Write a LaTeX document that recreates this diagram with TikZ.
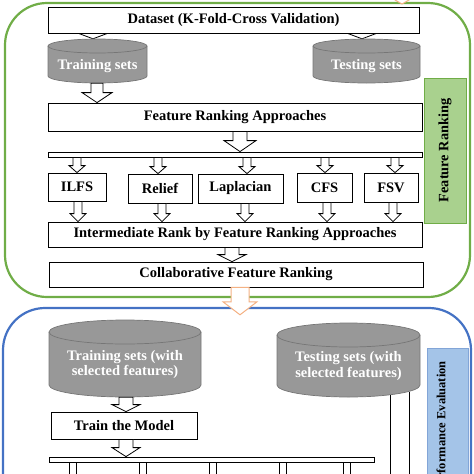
\documentclass[tikz,border=0pt]{standalone}
\usepackage{fontspec}
\setmainfont{Liberation Serif}
\usetikzlibrary{calc}
\pgfdeclarelayer{under}
\pgfsetlayers{under,main}
\definecolor{grn}{RGB}{112,173,71}
\definecolor{grnfill}{RGB}{169,209,142}
\definecolor{blu}{RGB}{68,114,196}
\definecolor{blufill}{RGB}{164,196,232}
\definecolor{bluline}{RGB}{130,165,215}
\definecolor{cylfill}{RGB}{152,152,152}
\definecolor{cylline}{RGB}{118,118,118}
\definecolor{orng}{RGB}{244,177,131}
\tikzset{
  box/.style={draw=black, fill=white, line width=0.8pt, inner sep=0pt,
    font=\bfseries\fontsize{14.5}{15.5}\selectfont},
  barbox/.style={draw=black, fill=white, line width=0.8pt, inner sep=0pt},
  cyltext/.style={inner sep=0pt, text=white, align=center,
    font=\bfseries\fontsize{14.5}{15.5}\selectfont},
  cylshape/.style={fill=cylfill, draw=cylline, line width=0.7pt},
  blockarrow/.style={draw=black, fill=white, line width=0.8pt},
  orangearrow/.style={draw=orng, fill=white, line width=1pt},
  panel/.style={line width=2.2pt, rounded corners=42pt},
  label/.style={inner sep=0pt, font=\bfseries\fontsize{14.3}{15}\selectfont},
  smalllabel/.style={inner sep=0pt, font=\bfseries\fontsize{12.5}{14}\selectfont},
  endpt/.style={inner sep=0pt, minimum size=0pt}
}
% block arrow between two named nodes: style, x, from, to, shaft half, head half, head length
\newcommand\barr[7]{%
  \draw[#1] let \p1=(#3.south), \p2=(#4.north) in
    ({#2-#5},\y1) -- ({#2+#5},\y1) -- ({#2+#5},{\y2+#7pt}) -- ({#2+#6},{\y2+#7pt})
    -- (#2,\y2) -- ({#2-#6},{\y2+#7pt}) -- ({#2-#5},{\y2+#7pt}) -- cycle;}
% cylinder: name, x1, x2, ytop, ybot, ry, text
\newcommand\cyl[7]{%
  \pgfmathsetmacro\rxc{(#3-#2)/2}%
  \draw[cylshape] (#2,{-(#4+#6)}) -- (#2,{-(#5-#6)}) arc (180:360:\rxc pt and #6pt)
     -- (#3,{-(#4+#6)}) arc (0:180:\rxc pt and #6pt) -- cycle;
  \draw[cylline, line width=0.7pt] (#2,{-(#4+#6)}) arc (180:360:\rxc pt and #6pt);
  \node[cyltext, minimum width={(#3-#2)*1pt}, minimum height={(#5-#4)*1pt}]
     (#1) at ({(#2+#3)/2},{-(#4+#5)/2}) {};
  \node[cyltext] (#1text) at ({(#2+#3)/2},{-(#4+#5)/2-#6/4-3}) {#7};}
\begin{document}
\begin{tikzpicture}[x=1pt,y=1pt]
\useasboundingbox (0,0) rectangle (474,-474);
\begin{scope}
\clip (0,0) rectangle (474,-474);
% panels
\draw[panel, draw=grn] (5,-3) rectangle (470,-297);
\draw[panel, draw=blu] (3,-308) rectangle (471,-560);
% top-right orange tip
\draw[orangearrow] (395,2) -- (395,0) -- (402,-4) -- (409,0) -- (409,2);

% side labels
\node[label, fill=grnfill, draw=grn, line width=0.8pt, minimum width=42pt, minimum height=145pt]
  (frlab) at (445,-150.5) {};
\node[label, rotate=90] (frtext) at (frlab.center) {Feature Ranking};
\node[smalllabel, fill=blufill, draw=bluline, line width=0.8pt, minimum width=41pt, minimum height=160pt,
  anchor=north] (pelab) at (447.5,-348) {};
\node[smalllabel, rotate=90, anchor=east] (petext) at (441,-361) {Performance Evaluation};

% upper panel
\node[box, minimum width=371pt, minimum height=26pt] (ds) at (233.5,-20) {Dataset (K-Fold-Cross Validation)};
\cyl{train}{48}{147}{39}{83}{7}{Training sets}
\cyl{test}{313}{420}{39}{83}{7}{Testing sets}
\begin{pgfonlayer}{under}
\barr{blockarrow}{93}{ds}{train}{8}{16}{6}
\barr{blockarrow}{362}{ds}{test}{8}{16}{6}
\end{pgfonlayer}
\node[box, minimum width=374pt, minimum height=28pt] (fra) at (235,-117) {Feature Ranking Approaches};
\node[barbox, minimum width=374pt, minimum height=5pt] (bar1) at (235,-154.5) {};
\node[box, minimum width=58pt, minimum height=28pt] (ilfs) at (77,-187) {ILFS};
\node[box, minimum width=64pt, minimum height=29pt] (relief) at (160,-188.5) {Relief};
\node[box, minimum width=85pt, minimum height=29pt] (lap) at (240.5,-188.5) {Laplacian};
\node[box, minimum width=55pt, minimum height=29pt] (cfs) at (324.5,-187.5) {CFS};
\node[box, minimum width=54pt, minimum height=29pt] (fsv) at (391,-187.5) {FSV};
\node[box, minimum width=374pt, minimum height=25pt] (inter) at (235,-234.5) {Intermediate Rank by Feature Ranking Approaches};
\node[box, minimum width=374pt, minimum height=25pt] (collab) at (236,-274.5) {Collaborative Feature Ranking};

\barr{blockarrow}{97}{train}{fra}{6}{15}{10}
\barr{blockarrow}{240}{fra}{bar1}{7}{16}{11}
\barr{blockarrow}{77}{bar1}{ilfs}{4}{8}{7}
\barr{blockarrow}{158}{bar1}{relief}{4}{8}{7}
\barr{blockarrow}{247}{bar1}{lap}{4}{8}{7}
\barr{blockarrow}{325}{bar1}{cfs}{4}{8}{7}
\barr{blockarrow}{395}{bar1}{fsv}{4}{8}{7}
\barr{blockarrow}{78}{ilfs}{inter}{4}{8}{8}
\barr{blockarrow}{162}{relief}{inter}{4}{8}{8}
\barr{blockarrow}{245}{lap}{inter}{4}{8}{8}
\barr{blockarrow}{327}{cfs}{inter}{4}{8}{8}
\barr{blockarrow}{393}{fsv}{inter}{4}{8}{8}
\barr{blockarrow}{232}{inter}{collab}{7}{14}{7}

% lower panel
\cyl{trainw}{49}{201}{320}{397}{12}{Training sets (with\\selected features)}
\cyl{testw}{277}{420}{323}{397}{12}{Testing sets (with\\selected features)}
\node[box, minimum width=146pt, minimum height=27pt] (model) at (124,-425.5) {Train the Model};
\node[barbox, minimum width=325pt, minimum height=5pt] (bar2) at (211.5,-459.5) {};
\barr{blockarrow}{126}{trainw}{model}{7}{14}{7}
\barr{blockarrow}{126}{model}{bar2}{7}{14}{9}

% lines from testing sets down
\node[endpt] (t1) at (390,-480) {};
\node[endpt] (t2) at (409,-480) {};
\draw[line width=0.7pt] (testw.south -| t1) ++(0,2.5) -- (t1);
\draw[line width=0.7pt] (testw.south -| t2) ++(0,5) -- (t2);
% shafts below bottom bar
\foreach \xx/\nm in {73/d1,143/d2,213/d3,283/d4,347/d5}{
  \node[endpt] (\nm) at (\xx,-480) {};
  \draw[blockarrow] (bar2.south -| \nm) ++(-3.5,0) rectangle ($(\nm)+(3.5,0)$);
}

% orange arrow between panels
\node[endpt] (oend) at (240,-315) {};
\barr{orangearrow}{240}{collab}{oend}{9}{17}{13}
\end{scope}
\end{tikzpicture}
\end{document}
